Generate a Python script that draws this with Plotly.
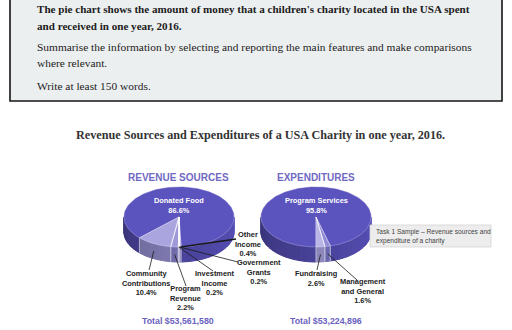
import numpy as np
import plotly.graph_objects as go

# ---- data ----
revenue_labels = ["Donated Food", "Community Contributions", "Program Revenue",
                  "Investment Income", "Government Grants", "Other Income"]
revenue_values = [86.6, 10.4, 2.2, 0.2, 0.2, 0.4]
revenue_total = 53561580

expense_labels = ["Program Services", "Fundraising", "Management and General"]
expense_values = [95.8, 2.6, 1.6]
expense_total = 53224896

W, H = 512, 330
SERIF = "Liberation Serif"
SANS = "Liberation Sans"

fig = go.Figure()


def hex_rgb(h):
    h = h.lstrip("#")
    return [int(h[i:i + 2], 16) for i in (0, 2, 4)]


def shade(h, f):
    r, g, b = hex_rgb(h)
    return "rgb(%d,%d,%d)" % (min(255, r * f), min(255, g * f), min(255, b * f))


def poly(xs, ys, color, lw=0.6):
    fig.add_trace(go.Scatter(
        x=list(xs) + [xs[0]], y=list(ys) + [ys[0]], mode="lines", fill="toself",
        fillcolor=color, line=dict(color=color, width=lw),
        hoverinfo="skip", showlegend=False))


def seg(x0, y0, x1, y1, color="#111", lw=0.8):
    fig.add_trace(go.Scatter(x=[x0, x1], y=[y0, y1], mode="lines",
                             line=dict(color=color, width=lw),
                             hoverinfo="skip", showlegend=False))


def pie3d(values, order, start, cx, cy, a, b, h, top_cols, side_cols):
    """Tilted pie: slices run clockwise on screen from `start` (degrees)."""
    spans = {}
    t0 = start
    for i in order:
        t1 = t0 - values[i] * 3.6
        spans[i] = (t1, t0)
        t0 = t1

    def pt(t, dy=0.0):
        r = np.radians(t)
        return cx + a * np.cos(r), cy + b * np.sin(r) + dy

    # side wall: only the front half (0..180 deg) is visible
    for i in order:
        lo, hi = spans[i]
        for k in (-360, 0, 360):
            s, e = max(lo, k), min(hi, k + 180)
            if e <= s:
                continue
            edges = np.arange(s, e, 3.0).tolist() + [e]
            for u, v in zip(edges[:-1], edges[1:]):
                tm = (u + v) / 2 - k
                f = 1.0 - 0.34 * (tm / 180.0)
                ts = np.linspace(u, v, 4)
                top = [pt(t) for t in ts]
                bot = [pt(t, h) for t in ts[::-1]]
                xs = [p[0] for p in top + bot]
                ys = [p[1] for p in top + bot]
                poly(xs, ys, shade(side_cols[i], f), 1.0)
            # light vertical edge where slices meet on the wall
            for t in (s, e):
                if 0 < t - k < 180:
                    x0, y0 = pt(t)
                    seg(x0, y0, x0, y0 + h, "rgba(255,255,255,0.75)", 0.8)

    # top faces
    for i in order:
        lo, hi = spans[i]
        ts = np.linspace(hi, lo, max(4, int((hi - lo) / 2) + 2))
        xs = [cx] + [pt(t)[0] for t in ts]
        ys = [cy] + [pt(t)[1] for t in ts]
        poly(xs, ys, top_cols[i], 0.5)
    # slice borders on the top face
    for i in order:
        if values[i] > 50:
            continue
        for t in spans[i]:
            x1, y1 = pt(t)
            seg(cx, cy, x1, y1, "rgba(255,255,255,0.8)", 0.8)
    # rim highlight
    ts = np.linspace(0, 180, 60)
    fig.add_trace(go.Scatter(x=[pt(t)[0] for t in ts], y=[pt(t)[1] for t in ts],
                             mode="lines", line=dict(color="rgba(255,255,255,0.3)", width=0.7),
                             hoverinfo="skip", showlegend=False))
    return spans, pt


# ---- task prompt box ----
fig.add_shape(type="rect", x0=10, x1=502, y0=-6, y1=101, xref="x", yref="y",
              fillcolor="#eceff0", line=dict(color="#151515", width=1.6), layer="below")

prompt = [
    ("<b>The pie chart shows the amount of money that a children's charity located in the USA spent</b>", 9, 11.1),
    ("<b>and received in one year, 2016.</b>", 26, 11.1),
    ("Summarise the information by selecting and reporting the main features and make comparisons", 47, 11.4),
    ("where relevant.", 63, 11.4),
    ("Write at least 150 words.", 86, 11.4),
]
for txt, y, fs in prompt:
    fig.add_annotation(x=35, y=y, text=txt, showarrow=False, xanchor="left", yanchor="middle",
                       font=dict(family=SERIF, size=fs, color="#1c1c1c"))

fig.add_annotation(x=260, y=135,
                   text="<b>Revenue Sources and Expenditures of a USA Charity in one year, 2016.</b>",
                   showarrow=False, xanchor="center", yanchor="middle",
                   font=dict(family=SERIF, size=12.2, color="#333333"))

# ---- pies ----
purple_title = "#7069c2"
fig.add_annotation(x=178, y=177, text="<b>REVENUE SOURCES</b>", showarrow=False,
                   font=dict(family=SANS, size=10, color=purple_title))
fig.add_annotation(x=316, y=177, text="<b>EXPENDITURES</b>", showarrow=False,
                   font=dict(family=SANS, size=10, color=purple_title))

rev_top = ["#5c54be", "#aaa5df", "#9f99da", "#b7b3e5", "#aea9e0", "#8f89d4"]
rev_side = ["#5850b8", "#9a94d8", "#8983d0", "#a9a4de", "#9d97d8", "#7f78cc"]
rev_order = [1, 2, 3, 4, 5, 0]
L = dict(cx=179, cy=217, a=55, b=30, h=15)
rspans, rpt = pie3d(revenue_values, rev_order, 136, L["cx"], L["cy"], L["a"], L["b"], L["h"],
                    rev_top, rev_side)

exp_top = ["#5c54be", "#b9b5e7", "#918bd6"]
exp_side = ["#5850b8", "#a7a2de", "#7f79cc"]
exp_order = [1, 2, 0]
R = dict(cx=316, cy=217, a=55, b=30, h=15)
espans, ept = pie3d(expense_values, exp_order, 90, R["cx"], R["cy"], R["a"], R["b"], R["h"],
                    exp_top, exp_side)

lab_font = dict(family=SANS, size=7.4, color="#222222")
white_font = dict(family=SANS, size=7.4, color="#ffffff")

fig.add_annotation(x=179, y=205, text="<b>%s<br>%.1f%%</b>" % (revenue_labels[0], revenue_values[0]),
                   showarrow=False, font=white_font)
fig.add_annotation(x=316, y=205, text="<b>%s<br>%.1f%%</b>" % (expense_labels[0], expense_values[0]),
                   showarrow=False, font=white_font)


def mid(spans, i):
    lo, hi = spans[i]
    return (lo + hi) / 2


# revenue callouts: (index, label text lines, label centre, line start, attach on wall?)
rev_callouts = [
    (1, "Community<br>Contributions", (146, 283), (149, 270), True),
    (2, "Program<br>Revenue", (185, 298), (186, 286), True),
    (3, "Investment<br>Income", (215, 283), (213, 271), False),
    (4, "Government<br>Grants", (259, 272), (238, 262), False),
    (5, "Other<br>Income", (248, 244), (236, 239), False),
]
for i, txt, (lx, ly), (sx, sy), wall in rev_callouts:
    t = mid(rspans, i)
    px, py = rpt(t, L["h"] * 0.5 if wall else 0)
    seg(sx, sy, px, py, "#1a1a1a", 1.4 if i == 5 else 0.8)
    fig.add_annotation(x=lx, y=ly, text="<b>%s<br>%.1f%%</b>" % (txt, revenue_values[i]),
                       showarrow=False, font=lab_font)

exp_callouts = [
    (1, "Fundraising", (316, 278), (317, 270), True),
    (2, "Management<br>and General", (363, 291), (357, 280), True),
]
for i, txt, (lx, ly), (sx, sy), wall in exp_callouts:
    t = mid(espans, i)
    px, py = ept(t, R["h"] * 0.5 if wall else 0)
    seg(sx, sy, px, py, "#1a1a1a", 0.8)
    fig.add_annotation(x=lx, y=ly, text="<b>%s<br>%.1f%%</b>" % (txt, expense_values[i]),
                       showarrow=False, font=lab_font)

total_font = dict(family=SANS, size=8.8, color="#6a62be")
fig.add_annotation(x=178, y=321, text="<b>Total $%s</b>" % format(revenue_total, ","),
                   showarrow=False, font=total_font)
fig.add_annotation(x=326, y=321, text="<b>Total $%s</b>" % format(expense_total, ","),
                   showarrow=False, font=total_font)

# caption tooltip
fig.add_shape(type="rect", x0=370, x1=491, y0=225, y1=247, xref="x", yref="y",
              fillcolor="#ededed", line=dict(color="#d4d4d4", width=0.8))
fig.add_annotation(x=374, y=236, text="Task 1 Sample \u2013 Revenue sources and<br>expenditure of a charity",
                   showarrow=False, xanchor="left", yanchor="middle", align="left",
                   font=dict(family=SANS, size=6.6, color="#444444"))

fig.update_layout(
    width=W, height=H, margin=dict(l=0, r=0, t=0, b=0),
    paper_bgcolor="#ffffff", plot_bgcolor="#ffffff",
    xaxis=dict(range=[0, W], visible=False, fixedrange=True),
    yaxis=dict(range=[H, 0], visible=False, fixedrange=True),
    showlegend=False,
)

fig.write_html("out.html")
